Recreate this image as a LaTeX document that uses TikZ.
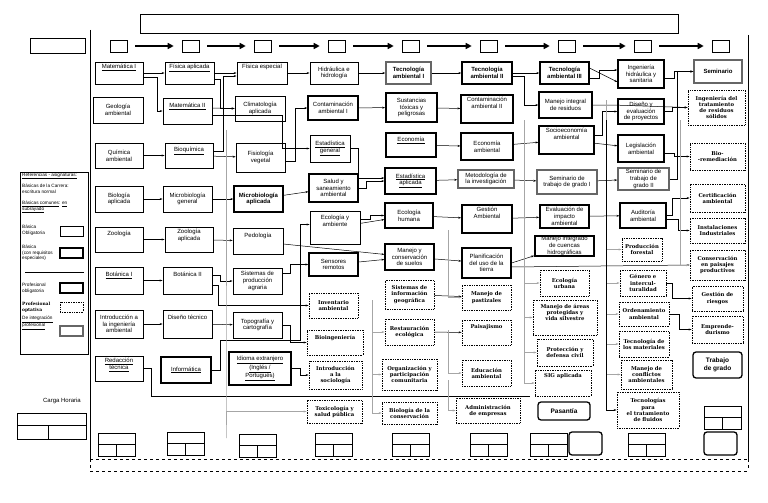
\documentclass[tikz,border=0pt]{standalone}
\usepackage{fontspec}
\setmainfont{Liberation Sans}
\newfontfamily\optf{DejaVu Serif}
\usetikzlibrary{arrows.meta}
\tikzset{
 base/.style={draw,align=center,inner sep=0.5pt,font=\fontsize{6}{6.8}\selectfont},
 bb/.style={base,line width=0.6pt},
 bc/.style={base,line width=1.6pt},
 po/.style={base,line width=1.1pt},
 ip/.style={base,draw=gray!80!black,line width=1.4pt},
 op/.style={base,densely dotted,line width=0.7pt,font=\optf\bfseries\fontsize{5.3}{6.1}\selectfont},
 rr/.style={base,rounded corners=3pt,line width=1.3pt,font=\bfseries\fontsize{6.5}{7.5}\selectfont},
 ar/.style={-{Stealth[length=3pt,width=2pt]},line width=0.5pt},
 gr/.style={-{Stealth[length=3pt,width=2pt]},line width=0.5pt,draw=gray!70},
 hdr/.style={draw,line width=0.6pt},
 lgt/.style={anchor=west,inner sep=0,font=\fontsize{4.7}{5.6}\selectfont,align=left},
 bigar/.style={-{Triangle[length=6pt,width=6pt]},line width=2.6pt}
}
\newcommand{\bx}[7]{\node[#6,minimum width={(#4-#2)*1pt},minimum height={(#5-#3)*1pt}] (#1) at ({(#2+#4)/2},{(#3+#5)/2}) {#7};}
\newcommand{\ch}[2]{\draw[line width=0.6pt] (#1,#2) rectangle (#1+37,#2+23) (#1,#2+11) -- (#1+37,#2+11) (#1+18.5,#2+11) -- (#1+18.5,#2+23);}
\begin{document}
\begin{tikzpicture}[x=1pt,y=-1pt]
\useasboundingbox[fill=white] (0,0) rectangle (768,503);
% frame
\draw[line width=0.6pt] (140,14) rectangle (678,33);
\draw[line width=0.6pt] (30,38) rectangle (85,53);
\draw[line width=0.7pt] (90,30) -- (90,459);
\draw[line width=0.7pt] (748,35) -- (748,459);
\draw[dashed,line width=0.6pt] (90,459) -- (748,459) (90,471) -- (748,471) (90,459) -- (90,471) (748,459)--(748,471);
% header squares and arrows
\foreach \x [count=\i] in {110,182,254,328,402,480,558,634,712}{
  \node[hdr,minimum width=17pt,minimum height=12pt] (h\i) at (\x+8.5,46) {};}
\foreach \i [evaluate=\i as \j using int(\i+1)] in {1,...,8}{
  \draw[bigar] ([xshift=8pt]h\i.east) -- ([xshift=-8pt]h\j.west);}
% legend
\draw[line width=0.7pt] (20,172) rectangle (88,354);
\node[lgt] (l1) at (22,176) {\underline{Referencias - asignaturas:}};
\node[lgt] (l2) at (22,189) {Básicas de la Carrera:\\escritura normal};
\node[lgt] (l3) at (22,207) {\underline{Básicas comunes}: \underline{en}\\\underline{subrayado}};
\node[lgt] (l4) at (22,230) {Básica\\Obligatoria};
\node[lgt] (l5) at (22,253) {Básica\\(con requisitos\\especiales)};
\draw[line width=0.6pt] (60,226) rectangle (83,236);
\draw[line width=1.3pt] (60,248) rectangle (83,258);
\draw[line width=0.8pt] (25,272) -- (84,272);
\node[lgt] (l6) at (22,288) {Profesional\\obligatoria};
\draw[line width=1.2pt] (60,283) rectangle (83,293);
\node[lgt,font=\optf\bfseries\fontsize{4.4}{5.6}\selectfont] (l7) at (22,307) {Profesional\\optativa};
\draw[densely dotted,line width=0.7pt] (60,302) rectangle (83,312);
\node[lgt] (l8) at (22,323) {\underline{De integración}\\\underline{profesional}};
\draw[draw=gray!80!black,line width=1.3pt] (60,326) rectangle (83,336);
% carga horaria
\node[font=\fontsize{6}{7}\selectfont] (cg) at (62,401) {Carga Horaria};
\draw[line width=0.6pt] (17,413) rectangle (86,439) (17,425)--(86,425) (48,425)--(48,439);
\ch{98}{433} \ch{167}{432} \ch{239}{434} \ch{315}{433} \ch{392}{433} \ch{470}{433} \ch{530}{433} \ch{628}{433} \ch{704}{406}
\draw[rounded corners=3pt,line width=1.3pt] (569,432) rectangle (602,455);
\draw[rounded corners=3pt,line width=1.3pt] (704,432) rectangle (737,455);
% ===== column 1
\bx{m1}{95}{62}{143}{84}{bb}{\underline{Matemática I}\\[6pt]}
\bx{geo}{93}{97}{143}{123}{bb}{Geología\\ambiental}
\bx{qa}{95}{143}{143}{168}{bb}{Química\\ambiental}
\bx{ba}{95}{186}{143}{212}{bb}{Biología\\aplicada}
\bx{zo}{95}{227}{143}{252}{bb}{Zoología\\[5pt]}
\bx{b1}{95}{267}{143}{294}{bb}{\underline{Botánica I}\\[6pt]}
\bx{ii}{95}{310}{143}{338}{bb}{Introducción a\\la ingeniería\\ambiental}
\bx{rt}{95}{356}{143}{381}{bb}{\underline{Redacción}\\\underline{técnica}\\[2pt]}
% column 2
\bx{fa}{165}{62}{214}{84}{bb}{\underline{Física aplicada}\\[6pt]}
\bx{m2}{163}{98}{212}{124}{bb}{\underline{Matemática II}\\[5pt]}
\bx{bq}{165}{143}{213}{168}{bb}{\underline{Bioquímica}\\[5pt]}
\bx{mg}{163}{186}{212}{212}{bb}{Microbiología\\general}
\bx{za}{165}{227}{213}{252}{bb}{Zoología\\aplicada\\[2pt]}
\bx{b2}{163}{267}{212}{294}{bb}{Botánica II\\[6pt]}
\bx{dt}{163}{310}{212}{338}{bb}{Diseño técnico\\[6pt]}
\bx{inf}{161}{357}{211}{383}{bc}{\underline{Informática}}
% column 3
\bx{fe}{237}{62}{287}{84}{bb}{Física especial\\[6pt]}
\bx{cl}{235}{96}{285}{121}{bb}{Climatología\\aplicada}
\bx{fv}{236}{143}{285}{172}{bb}{Fisiología\\vegetal}
\bx{mia}{234}{186}{283}{212}{po}{\textbf{Microbiología}\\\textbf{aplicada}}
\bx{ped}{233}{228}{283}{254}{bb}{Pedología\\[5pt]}
\bx{spa}{233}{268}{282}{294}{bb}{Sistemas de\\producción\\agraria}
\bx{top}{233}{312}{282}{338}{bb}{Topografía y\\cartografía}
\bx{idi}{229}{352}{291}{385}{bc}{\underline{Idioma extranjero}\\\underline{(Inglés /}\\\underline{Portugués)}}
% column 4
\bx{hid}{310}{62}{358}{84}{bb}{Hidráulica e\\hidrología}
\bx{ca1}{308}{96}{358}{120}{po}{Contaminación\\ambiental I}
\bx{eg}{310}{135}{350}{162}{bb}{\underline{Estadística}\\\underline{general}}
\bx{ssa}{309}{174}{358}{202}{po}{Salud y\\saneamiento\\ambiental}
\bx{eya}{310}{211}{360}{244}{bb}{Ecología y\\ambiente\\[6pt]}
\bx{sr}{309}{253}{358}{276}{po}{Sensores\\remotos}
\bx{inv}{309}{293}{358}{318}{op}{Inventario\\ambiental}
\bx{bio}{307}{330}{363}{355}{op}{Bioingeniería\\[5pt]}
\bx{isoc}{309}{361}{362}{389}{op}{Introducción\\a la\\sociología}
\bx{tox}{307}{400}{362}{423}{op}{Toxicología y\\salud pública}
% column 5
\bx{ta1}{386}{62}{431}{84}{ip}{\textbf{Tecnología}\\\textbf{ambiental I}}
\bx{stp}{386}{93}{437}{122}{bc}{Sustancias\\tóxicas y\\peligrosas}
\bx{eco}{386}{133}{436}{157}{po}{\underline{Economía}\\[5pt]}
\bx{ea}{385}{168}{436}{194}{po}{\underline{Estadística}\\\underline{aplicada}}
\bx{eh}{385}{203}{433}{228}{po}{Ecología\\humana}
\bx{mcs}{385}{244}{434}{270}{po}{Manejo y\\conservación\\de suelos}
\bx{sig}{385}{280}{434}{309}{op}{Sistemas de\\información\\geográfica}
\bx{res}{385}{319}{434}{345}{op}{Restauración\\ecológica}
\bx{org}{382}{359}{437}{390}{op}{Organización y\\participación\\comunitaria}
\bx{bcon}{382}{402}{437}{424}{op}{Biología de la\\conservación}
% column 6
\bx{ta2}{462}{62}{512}{84}{po}{\textbf{Tecnología}\\\textbf{ambiental II}}
\bx{ca2}{461}{95}{513}{123}{po}{Contaminación\\ambiental II\\[5pt]}
\bx{ecoa}{461}{133}{513}{160}{po}{Economía\\ambiental}
\bx{met}{458}{170}{514}{188}{ip}{Metodología de\\la investigación}
\bx{gest}{462}{205}{512}{233}{bc}{Gestión\\Ambiental\\[5pt]}
\bx{plan}{462}{248}{511}{278}{po}{Planificación\\del uso de la\\tierra}
\bx{past}{462}{285}{511}{310}{op}{Manejo de\\pastizales}
\bx{pai}{462}{320}{511}{345}{op}{Paisajismo\\[6pt]}
\bx{edu}{462}{360}{511}{386}{op}{Educación\\ambiental}
\bx{adm}{456}{398}{520}{423}{op}{Administración\\de empresas}
% column 7
\bx{ta3}{540}{62}{589}{84}{po}{\textbf{Tecnología}\\\textbf{ambiental III}}
\bx{mir}{539}{92}{592}{118}{po}{Manejo integral\\de residuos}
\bx{sea}{539}{126}{594}{154}{po}{Socioeconomía\\ambiental\\[5pt]}
\bx{stg1}{537}{170}{597}{194}{ip}{Seminario de\\trabajo de grado I}
\bx{eia}{540}{205}{589}{228}{bc}{Evaluación de\\impacto\\ambiental}
\bx{mic}{535}{236}{594}{256}{bc}{Manejo integrado\\de cuencas\\hidrográficas}
\bx{eu}{540}{270}{589}{296}{op}{Ecología\\urbana}
\bx{map}{533}{300}{597}{335}{op}{Manejo de áreas\\protegidas y\\vida silvestre\\[4pt]}
\bx{pdc}{537}{339}{593}{366}{op}{Protección y\\defensa civil}
\bx{siga}{535}{370}{591}{396}{op}{SIG aplicada\\[8pt]}
\bx{pas}{538}{402}{590}{420}{rr}{Pasantía}
% column 8
\bx{ihs}{618}{60}{664}{88}{po}{Ingeniería\\hidráulica y\\sanitaria}
\bx{dep}{618}{99}{664}{124}{po}{Diseño y\\evaluación\\de proyectos}
\bx{leg}{618}{135}{664}{162}{po}{Legislación\\ambiental}
\bx{stg2}{618}{168}{669}{190}{ip}{Seminario de\\trabajo de\\grado II}
\bx{aud}{620}{203}{666}{228}{po}{Auditoría\\ambiental}
\bx{pf}{622}{238}{662}{261}{op}{Producción\\forestal}
\bx{gen}{620}{270}{666}{296}{op}{Género e\\intercul-\\turalidad}
\bx{ord}{619}{302}{669}{326}{op}{Ordenamiento\\ambiental}
\bx{tm}{619}{331}{669}{357}{op}{Tecnología de\\los materiales}
\bx{mca}{621}{360}{672}{389}{op}{Manejo de\\conflictos\\ambientales}
\bx{tf}{617}{392}{679}{428}{op}{Tecnologías\\para\\el tratamiento\\de fluidos}
% column 9
\bx{sem}{694}{60}{742}{83}{ip}{\textbf{Seminario}}
\bx{itr}{688}{90}{745}{125}{op}{Ingeniería del\\tratamiento\\de residuos\\sólidos}
\bx{brem}{690}{143}{745}{170}{op}{Bio-\\-remediación}
\bx{cert}{690}{184}{745}{212}{op}{Certificación\\ambiental}
\bx{inst}{690}{218}{745}{243}{op}{Instalaciones\\Industriales}
\bx{cpp}{690}{250}{745}{280}{op}{Conservación\\en paisajes\\productivos}
\bx{gr}{692}{286}{743}{311}{op}{Gestión de\\riesgos}
\bx{emp}{692}{316}{743}{343}{op}{Emprende-\\durismo}
\bx{tg}{693}{352}{742}{378}{rr}{Trabajo\\de grado}
\coordinate (rtend) at (530,396);
% ===== connectors
\foreach \a/\b in {m1/fa,fa/fe,fe/hid,hid/ta1,ta1/ta2,ta2/ta3,qa/bq,bq/fv,ba/mg,mg/mia,mia/ssa,zo/za,za/ped,b1/b2,ii/dt,dt/top,stp/ca2,eco/ecoa,ecoa/sea,sea/leg,ea/met,met/stg1,stg1/stg2,eh/gest,gest/eia,eia/aud,mcs/plan,ca1/stp,eya/eh,sr/mcs,sig/past,res/pai}
  \draw[ar] (\a) -- (\b);
\draw[ar] (m1.east) ++(0,4) -| ++(14,0) |- (m2);
\draw[ar] (fa.east) ++(0,6) -| ++(6,0) |- (cl);
\draw[ar] (m2.east) ++(0,-3) -- (cl.west);
\draw[ar] (m2.east) ++(0,4) -| ++(70,24) |- (eg);
\draw[ar] (bq.east) ++(0,-4) -| ++(10,-40) |- ([yshift=-3pt]fe.west);
\draw[ar] (fv.east) ++(0,4) -| ++(10,0) |- (ca1);
\draw[ar] (ssa.east) -| ++(8,0) |- (ea);
\draw[ar] (eg.east) -| ++(8,0) |- ([yshift=3pt]ea.west);
\draw[ar] (ta2.east) ++(0,3) -| ++(12,0) |- (mir);
\draw[ar] (ta3.east) ++(0,-5) -- ([yshift=-8pt]ihs.west);
\draw[ar] (ta3.east) ++(0,5) -| ++(10,0) |- ([yshift=4pt]ihs.west);
\draw[ar] (ihs.east) ++(0,4) -| ++(10,0) |- (sem);
\draw[ar] (mir.east) -- ++(20,0) -- (itr.west);
\draw[ar] (sea.east) ++(0,-5) -| ++(8,0) |- (dep);
\draw[ar] (dep.east) -| ++(8,0) |- (itr);
\draw[ar] (leg.east) ++(0,5) -| ++(10,0) |- (brem);
\draw[ar] (stg2.east) -| ++(8,0) |- (sem);
\draw[ar] (aud.east) -| ++(6,0) |- (cert);
\draw[ar] (aud.east) ++(0,4) -| ++(12,0) |- (inst);
\draw[ar] (plan.east) -- (mic);
\draw[ar] (plan.east) ++(0,4) -- (cpp.west);
\draw[ar] (gen.east) -| ++(6,0) |- (gr);
\draw[ar] (ord.east) -| ++(10,0) |- (emp);
\draw[ar] (ped.east) ++(0,3) -- (mcs);
\draw[ar] (b2.east) ++(0,-5) -| ++(8,0) |- (spa);
\draw[ar] (b2.east) ++(0,5) -| ++(6,0) |- (inv);
\draw[ar] (spa.east) ++(0,-8) -| ++(8,0) |- (sr);
\draw[ar] (top.east) -| ++(8,0) |- (bio);
\draw[ar] (idi.east) -| ++(8,0) |- (isoc);
\draw[ar] (eya.east) ++(0,-8) -| ++(10,0) |- (eh);
\draw[ar] (inf.east) -| ++(8,-30) -| ++(80,-60) |- ([yshift=3pt]eya.west);
\draw[line width=0.5pt] (rt.east) -| ++(8,0) |- (rtend);
\draw[gr] (226,130) -- (226,438) |- (tox);
\draw[gr] (372,300) |- (res);
\draw[gr] (372,300) |- (org);
\draw[gr] (372,350) |- (bcon);
\draw[gr] (448,230) |- (past);
\draw[gr] (448,330) |- (edu);
\draw[gr] (448,380) |- (adm);
\draw[gr] (524,120) |- (map);
\draw[gr] (524,250) |- (eu);
\draw[gr] (524,300) |- (pdc);
\draw[gr] (524,330) |- (siga);
\draw[gr] (606,100) |- (pf);
\draw[gr] (606,200) |- (gen);
\draw[gr] (606,280) |- (ord);
\draw[gr] (606,300) |- (tm);
\draw[gr] (606,330) |- (mca);
\draw[ar] (606,120) |- (tf);
\draw[gr] (680,120) |- (cpp);
\end{tikzpicture}
\end{document}
